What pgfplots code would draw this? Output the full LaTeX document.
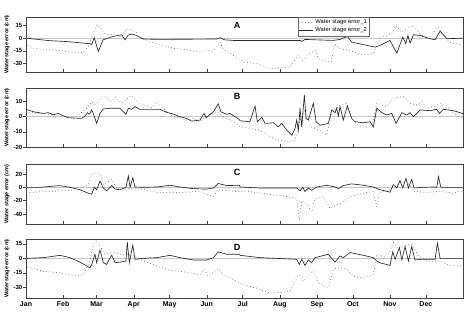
\documentclass[border=0pt]{standalone}
\usepackage{fontspec}
\setmainfont{Liberation Sans}
\usepackage{pgfplots}
\pgfplotsset{compat=1.18}
\pgfplotsset{
  panel/.style={
    scale only axis, width=437pt, anchor=south west,
    xmin=0, xmax=365,
    xtick={0,31,59,90,120,151,181,212,243,273,304,334},
    xticklabels={},
    xtick pos=left, ytick pos=left,
    xtick align=inside, ytick align=outside,
    major tick length=2.5pt,
    axis line style={black!75, line width=0.6pt},
    tick style={black!75, line width=0.5pt},
    /pgf/number format/assume math mode=true,
    yticklabel style={font=\fontsize{6}{7}\selectfont\bfseries, inner sep=1pt},
    xticklabel style={font=\fontsize{7}{8}\selectfont\bfseries},
    ylabel={Water stage error (cm)},
    ylabel style={font=\fontsize{5.5}{6}\selectfont\bfseries, at={(axis description cs:-0.0435,0.5)}, anchor=center},
  },
  e1/.style={black!60, line width=0.95pt, dash pattern=on 0.01pt off 3.2pt, line cap=round},
  e2/.style={black!85, line width=0.65pt},
  zl/.style={gray!45, line width=0.5pt},
}
\tikzset{lab/.style={font=\fontsize{9}{10}\selectfont\bfseries, anchor=north}}
\begin{document}
\begin{tikzpicture}
\useasboundingbox (0,0) rectangle (474pt,312pt);
% ---------------- A
\begin{axis}[panel, at={(26pt,240pt)}, height=55pt, ymin=-40, ymax=25, ytick={-30,-15,0,15},
  legend style={at={(axis description cs:0.622,1)}, anchor=north west, font=\fontsize{5.8}{6}\selectfont, draw=black!60, inner sep=0.5pt, row sep=-1.5pt, cells={anchor=west}},
  legend image code/.code={\draw[#1] (0pt,0pt) -- (14pt,0pt);}]
\addplot[zl, forget plot] coordinates {(0,0) (365,0)};
\addplot[e1] coordinates {(1.7,-8.6) (5.8,-11.8) (14.2,-13.7) (28.4,-14.5) (42.6,-17.7) (47.6,-16.5) (51.8,-10.6) (56,5) (59,16) (61.8,13) (66,5.2) (70.2,4) (74.4,5) (80,1.2) (84,11) (88.3,10) (92.5,6.3) (98,-0.8) (109,-6.6) (122.8,-11.8) (134,-13.7) (145.4,-16.5) (151,-13.7) (156,-15.7) (162,-4.7) (164.6,-12.5) (173,-20.4) (177,-23.6) (181,-28) (192.7,-30) (203.8,-36) (220.5,-34) (227,-20.4) (231,-26) (237,-18.4) (241.4,-14.5) (244,-24) (251,-28) (255,-28) (258,-6.6) (262,-12.5) (270.7,-14.5) (279,-19.6) (290,-18.4) (296,0.4) (305.5,5.2) (309,15) (313.9,7) (319.4,13) (323.5,15) (329,5) (335.8,-0.8) (344,13) (348.4,3) (354,-4.7) (362.6,-7.8) (365,-8)};
\addlegendentry{Water stage error\_1}
\addplot[e2] coordinates {(0,0) (20,-3) (34,-4) (53.5,-6.6) (54.9,-7.5) (57,0.5) (60.4,-15.7) (64.3,-2) (72.7,2) (80,4) (82.7,-2) (85.2,3.5) (88.3,5) (92.5,3) (97.7,-1) (112,-1.5) (159.3,-1) (162,0.5) (166,-2) (173,-2.7) (229,-2.7) (230.3,-4) (233,-1.5) (242.3,-2) (256.5,-2.7) (262.3,-1.5) (268.4,2) (272,-4.7) (291.6,-10.6) (295.7,-8.6) (304,-2.7) (309.7,-17.7) (314.7,1.2) (317.2,-6.6) (319,3.2) (320.8,-5.9) (323.6,4) (329,3.2) (337.5,-0.7) (341.7,-1.9) (345.9,8.3) (351.5,-0.7) (365,0)};
\addlegendentry{Water stage error\_2}
\node[lab] at (axis description cs:0.483,0.97) {A};
\end{axis}
% ---------------- B
\begin{axis}[panel, at={(26pt,165pt)}, height=59pt, ymin=-20, ymax=19, ytick={-20,-10,0,10}]
\addplot[zl] coordinates {(0,0) (365,0)};
\addplot[e1] coordinates {(0,3) (20,1.5) (40,-1) (50,5) (55,10) (58,8) (62,12) (66,14) (70,10) (75,13) (80,9) (85,12) (88,14) (92,11) (96,8) (100,7) (105,6) (110,10) (112,7.8) (118,3) (123,0) (130,-1) (134,-2.2) (140,-1) (145,-3.3) (150,0) (156,2.2) (160,3) (165,0) (170,-2) (174,-3.3) (178,-6.2) (181,-6.7) (195,-8.9) (206.6,-14.4) (217.8,-16.7) (224.7,-15.6) (229,-2.2) (233,4.5) (238,-6.7) (245.6,-8.9) (251,-12.2) (255.4,2.2) (262.3,7.8) (268,8.9) (272,-1.1) (279,-6.7) (289,-6.7) (293,8.9) (301.3,6.7) (306.8,12.3) (315.2,13.3) (320.8,8.9) (326.4,7.8) (330.6,10) (334.8,5.6) (340.3,6.7) (345.9,8.9) (351.5,6.7) (357,2.2) (361.2,0) (365,-1)};
\addplot[e2] coordinates {(0,4.9) (6.1,3.3) (14.5,2.2) (18.6,2.7) (22.8,1.3) (27,2.2) (29.8,1.1) (35.3,-0.7) (46.5,-1.1) (49.3,0.5) (51.5,2.7) (52.9,1.6) (54.9,4.5) (56.2,2.2) (59,-4.4) (61.8,2.2) (64.6,5.1) (70.2,5.6) (78.5,5.6) (83.5,1.6) (85.5,5.6) (88.3,4.9) (91,6.7) (95.2,4.9) (112,4.9) (117.5,2.9) (123,1.8) (128.7,0) (134.2,-1.1) (138.4,-2.9) (145.4,-2.2) (148.7,2.2) (150.4,-0.7) (156.5,3.3) (160.6,8.5) (162.7,3.3) (167.7,1.6) (170.4,2.2) (174.6,0) (178.2,-1.8) (178.8,-2.7) (187,-3.3) (191.3,7.1) (193.2,-3.3) (196.9,-0.4) (199.7,-4.4) (206.6,-4) (210.8,-6.7) (213.6,-4.4) (217.8,-8.9) (222,-12.2) (224.7,-7.8) (226.1,-2.2) (227.5,-8.9) (228.9,5.6) (230.3,-6.7) (232.5,14.5) (233.9,-1.1) (235.8,-2.2) (240,8.9) (242.3,-3.3) (245.6,-5.6) (252.5,-4.4) (255.4,4.5) (258.1,2.7) (259.5,5.6) (260.9,0.5) (262.3,6.7) (265,-2.2) (268.4,7.1) (272,-1.1) (274.8,-3.3) (281.8,-4) (287.4,-3.3) (290.1,-6.7) (293,5.6) (297.2,2.7) (301.3,1.1) (305.5,2.2) (309.1,-4.4) (313.9,2.7) (318,1.1) (320.8,2.7) (323.6,0) (329.2,4.5) (337.5,4) (343,4.9) (345.3,2.2) (348.6,4.9) (357,4) (362.6,2.7) (365,2)};
\node[lab] at (axis description cs:0.483,0.97) {B};
\end{axis}
% ---------------- C
\begin{axis}[panel, at={(26pt,88pt)}, height=60pt, ymin=-55, ymax=35, ytick={-40,-20,0,20}]
\addplot[zl] coordinates {(0,0) (365,0)};
\addplot[e1] coordinates {(3.3,-7.7) (20,-6) (45,-3.6) (52,5) (55,19.7) (59,22) (61.8,19.7) (64.6,4.1) (71.6,11.9) (75.7,-1) (84,-1) (98,-2.6) (109.2,-7.7) (117.5,-7.7) (128.7,-7.7) (145.4,-6) (156.5,-14) (160,-3.6) (173.2,-6) (184.4,-6) (212.2,-12.4) (226.1,-16.5) (228.3,-50) (230.3,-20) (234.5,-25) (238.6,-37) (241.4,-18) (248.4,-14) (254,-32) (259.5,-26.8) (265,-21.7) (270.7,-14) (281.8,-8.8) (290.1,-6) (293,-29.5) (295.1,-8.8) (304,-3.6) (312.4,6.7) (318,9.3) (323.6,-6) (334.8,-7.7) (345.9,-6) (357,-8.8) (362.6,-6) (365,-6)};
\addplot[e2] coordinates {(0,0) (11.7,0) (28.4,2.6) (36.8,0) (45,-3.6) (52,-8.8) (54.9,-10.3) (57,0) (59,-3.6) (61.8,9.3) (64.6,-1) (67.4,-5.2) (71.6,2.6) (74.4,-2.6) (78.5,-3.6) (83.5,0) (85.5,17) (86.9,0) (89.2,14.5) (91,0.5) (98,0) (109.2,0.5) (120.3,3.1) (128.7,0.5) (139.8,-2) (151,-2.6) (156.5,-1) (160.6,5.7) (167.7,2.6) (178.2,3.1) (178.8,0.5) (195.5,-1) (226.1,-1) (228.9,-5.2) (231.2,0) (233,-6.2) (235.8,-1) (238.6,-4.6) (242.8,0.5) (251.1,3.1) (258.1,0.5) (260.9,-2) (265,2.6) (272,5.2) (281.8,3.1) (290.1,0.5) (295.7,-3.6) (304,-7.2) (306.8,4.1) (309.7,-1) (312.4,10.3) (314.7,-1) (317.4,13.4) (319.4,-1) (322.2,11.9) (324.1,-1) (330.6,0) (340.3,0.5) (343.1,0) (344.5,16) (346.5,0) (362.6,0) (365,0)};
\node[lab] at (axis description cs:0.483,0.97) {C};
\end{axis}
% ---------------- D
\begin{axis}[panel, at={(26pt,14pt)}, height=59pt, ymin=-41, ymax=20, ytick={-30,-15,0,15},
  xticklabels={Jan,Feb,Mar,Apr,May,Jun,Jul,Aug,Sep,Oct,Nov,Dec}]
\addplot[zl] coordinates {(0,0) (365,0)};
\addplot[e1] coordinates {(1.7,-9.1) (14.5,-13.3) (28.4,-15) (42.3,-18.5) (47.9,-16.8) (53.5,-2.8) (56.2,14.7) (59,18.2) (61.8,12.6) (66,4.2) (72.9,6) (78.5,4.2) (84,4.2) (89.7,2.5) (98,-2.8) (109.2,-8) (120.3,-12.3) (134.2,-14.4) (145.4,-16.8) (148.7,-11.6) (152.3,-18.5) (160.6,-10.5) (164.8,-16.8) (173.2,-22) (178.2,-25.5) (181.5,-27.3) (192.7,-30.8) (203.8,-36) (220.5,-34.3) (227.5,-16.8) (231.7,-23.8) (237.3,-15) (240,-13.3) (244.2,-25.5) (252.5,-30.8) (256.7,-11.2) (262.3,-9.5) (267.9,-11.2) (273.4,-18.5) (281.8,-20.3) (290.1,-16.8) (293,4.2) (301.3,0.7) (306.8,16.5) (311,9.8) (316.6,12.9) (322.2,14.7) (327.7,2.5) (334.8,-2.8) (340.3,-2.8) (345.9,-2.8) (351.5,-6.3) (359.9,-8) (365,-8)};
\addplot[e2] coordinates {(0,0) (14.5,0.7) (28.4,3.1) (36.8,0.7) (45,-3.9) (53.5,-9.8) (54.9,-6.3) (57.6,4.2) (59,-4.5) (61.8,8.7) (64.6,-4.5) (67.4,-6.3) (70.2,0.7) (71.6,3.1) (74.4,-4.5) (78.5,-3.9) (83.5,-2.8) (84.6,17.1) (86.3,-4.5) (89.2,13.7) (91,-1) (98,0) (109.2,0.7) (120.3,3.1) (128.7,0.7) (139.8,-1.7) (151,-1.7) (156.5,0.7) (160.6,6.7) (167.7,4.2) (178.2,4.2) (178.8,3.1) (195.5,0.7) (226.1,-1) (228.3,-6.3) (230.3,-1) (233,-7.4) (235.8,-1.7) (238.6,-4.5) (241.4,0.7) (252.5,4.2) (255.4,-0.3) (258.1,-3.9) (262.3,2.5) (265,0.7) (270.7,6) (281.8,3.1) (290.1,0.7) (293,-2.8) (295.7,-4.5) (304,-7.4) (306.3,6.7) (308.3,-1) (311.9,11.2) (313.9,-1.7) (316.6,12.2) (319.4,-2.8) (322.2,12.2) (324.9,-1.7) (330.6,-1) (341.7,-1) (343.6,15.7) (345.9,-0.3) (362.6,-0.3) (365,-0.3)};
\node[lab] at (axis description cs:0.483,0.97) {D};
\end{axis}
\end{tikzpicture}
\end{document}
